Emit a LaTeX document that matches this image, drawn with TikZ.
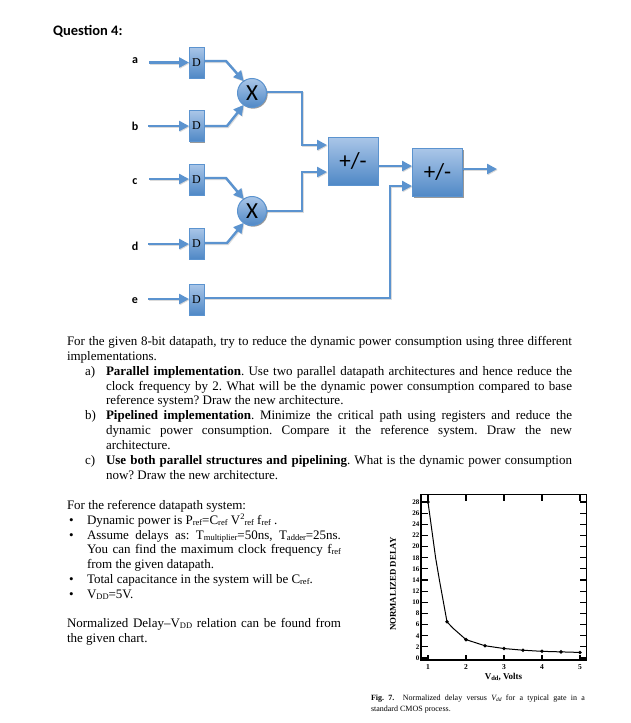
\documentclass[tikz,border=0pt]{standalone}
\usepackage{fontspec}
\setmainfont{Liberation Serif}
\newfontfamily\calib{Carlito}
\usetikzlibrary{arrows.meta,shadows}
\definecolor{wire}{HTML}{5B93CF}
\definecolor{boxtop}{HTML}{AAC6E8}
\definecolor{boxbot}{HTML}{4F88C6}
\newcommand\body{\fontsize{13}{14}\selectfont\frenchspacing}
\newcommand\sbs[1]{\raisebox{-1.5pt}{\fontsize{8.5}{9}\selectfont #1}}
\newcommand\sps[1]{\raisebox{4.5pt}{\fontsize{8.5}{9}\selectfont #1}}
\newcommand\jl[5]{\node[txt] (#1) at (#2,#3) {\hbox to #4pt{#5}};}
\newcommand\nl[4]{\node[txt] (#1) at (#2,#3) {#4};}
\tikzset{
  shade box/.style={top color=boxtop,bottom color=boxbot,draw=wire,line width=1pt,
    drop shadow={shadow xshift=1.2pt,shadow yshift=-1.2pt,opacity=.4,fill=black},inner sep=0pt,outer sep=0pt},
  reg/.style={shade box,rectangle,minimum width=15pt,minimum height=31pt,font=\fontsize{12}{12}\selectfont},
  mult/.style={shade box,circle,minimum size=29pt,font=\calib\fontsize{23}{23}\selectfont},
  adder/.style={shade box,rectangle,minimum width=50pt,minimum height=48pt,font=\calib\fontsize{23}{23}\selectfont},
  conn/.style={draw=wire,line width=2.4pt,-{Triangle[length=10pt,width=10pt]},
    preaction={draw=black,opacity=.14,line width=2.4pt,-{Triangle[length=10pt,width=10pt]},transform canvas={shift={(.9pt,-.9pt)}}}},
  inlabel/.style={font=\calib\bfseries\fontsize{12}{12}\selectfont,inner sep=0pt},
  txt/.style={anchor=base west,inner sep=0pt,outer sep=0pt,font=\body},
  axlab/.style={inner sep=0pt,font=\bfseries\fontsize{7}{7}\selectfont},
  caption/.style={anchor=base west,inner sep=0pt,outer sep=0pt,font=\fontsize{8}{8}\selectfont\frenchspacing},
}
\begin{document}
\begin{tikzpicture}[x=1pt,y=-1pt]
\useasboundingbox[fill=white] (0,0) rectangle (630,723);
\node[font=\calib\bfseries\fontsize{14.5}{15}\selectfont,anchor=west,inner sep=0pt] (title) at (53,31) {Question 4:};
% datapath
\node[inlabel] (la) at (135,61) {a};
\node[inlabel] (lb) at (135,126) {b};
\node[inlabel] (lc) at (135,182) {c};
\node[inlabel] (ld) at (135,246) {d};
\node[inlabel] (le) at (135,301) {e};
\coordinate (ia) at (149,62.5);
\coordinate (ib) at (148,126);
\coordinate (ic) at (149,179);
\coordinate (id) at (148,244);
\coordinate (ie) at (148,299);
\node[reg] (da) at (196.5,62.5) {D};
\node[reg] (db) at (196.5,126) {D};
\node[reg] (dc) at (196.5,179.5) {D};
\node[reg] (dd) at (196.5,243.5) {D};
\node[reg] (de) at (196.5,299.5) {D};
\node[mult] (xa) at (252,93) {X};
\node[mult] (xb) at (252,211) {X};
\node[adder] (ad1) at (353,161) {+/-};
\node[adder] (ad2) at (437.5,172.5) {+/-};
\coordinate (out) at (497,169);
\coordinate (ad1a) at (327,145);
\coordinate (ad1b) at (327,172);
\coordinate (ad2a) at (412,166);
\coordinate (ad2b) at (412,186);
\coordinate (ad1o) at (378,166);
\coordinate (ad2o) at (462,169);
\draw[conn] (ia) -- (da.west |- ia);
\draw[conn] (ib) -- (db.west |- ib);
\draw[conn] (ic) -- (dc.west |- ic);
\draw[conn] (id) -- (dd.west |- id);
\draw[conn] (ie) -- (de.west |- ie);
\coordinate (ba) at (226,61);
\coordinate (bb) at (227,126);
\coordinate (bc) at (226,178);
\coordinate (bd) at (227,243);
\draw[conn] (da.east |- ba) -- (ba) -- (xa.125);
\draw[conn] (db.east |- bb) -- (bb) -- (xa.235);
\draw[conn] (dc.east |- bc) -- (bc) -- (xb.125);
\draw[conn] (dd.east |- bd) -- (bd) -- (xb.235);
\coordinate (bx1) at (302,92);
\coordinate (bx2) at (302,211);
\draw[conn] (xa.east |- bx1) -- (bx1) -- (bx1 |- ad1a) -- (ad1a);
\draw[conn] (xb.east |- bx2) -- (bx2) -- (bx2 |- ad1b) -- (ad1b);
\draw[conn] (ad1o) -- (ad2a);
\draw[conn] (ad2o) -- (out);
\coordinate (be) at (390,298);
\draw[conn] (de.east |- be) -- (be) -- (be |- ad2b) -- (ad2b);
% question text
\jl{t1}{67}{345}{505}{For the given 8-bit datapath, try to reduce the dynamic power consumption using three different}
\nl{t2}{67}{360}{implementations.}
\nl{t3a}{85}{375}{a)}
\jl{t3}{106}{375}{466}{\textbf{Parallel implementation}. Use two parallel datapath architectures and hence reduce the}
\jl{t4}{106}{390}{466}{clock frequency by 2. What will be the dynamic power consumption compared to base}
\nl{t5}{106}{404}{reference system? Draw the new architecture.}
\nl{t6a}{85}{419}{b)}
\jl{t6}{106}{419}{466}{\textbf{Pipelined implementation}. Minimize the critical path using registers and reduce the}
\jl{t7}{106}{434}{466}{dynamic power consumption. Compare it the reference system. Draw the new}
\nl{t8}{106}{449}{architecture.}
\nl{t9a}{85}{464}{c)}
\jl{t9}{106}{464}{466}{\textbf{Use both parallel structures and pipelining}. What is the dynamic power consumption}
\nl{t10}{106}{479}{now? Draw the new architecture.}
% reference system text
\nl{r1}{67}{509}{For the reference datapath system:}
\nl{b1}{69}{524}{•}
\nl{r2}{87}{524}{Dynamic power is P\sbs{ref}=C\sbs{ref} V\sps{2}\sbs{ref} f\sbs{ref} .}
\nl{b2}{69}{539}{•}
\jl{r3}{87}{539}{254}{Assume delays as: T\sbs{multiplier}=50ns, T\sbs{adder}=25ns.}
\jl{r4}{87}{553}{254}{You can find the maximum clock frequency f\sbs{ref}}
\nl{r5}{87}{568}{from the given datapath.}
\nl{b3}{69}{583}{•}
\nl{r6}{87}{583}{Total capacitance in the system will be C\sbs{ref}.}
\nl{b4}{69}{598}{•}
\nl{r7}{87}{598}{V\sbs{DD}=5V.}
\jl{r8}{67}{627}{274}{Normalized Delay–V\sbs{DD} relation can be found from}
\nl{r9}{67}{642}{the given chart.}
% chart
\begin{scope}[shift={(390,658)},x=38pt,y=5.57pt]
  \draw[line width=1.1pt] (0.816,-0.36) rectangle (5.18,29.3);
  \draw[line width=1.6pt] (0.816,-0.36) -- (5.18,-0.36);
  \foreach \v in {0,2,...,28}{
    \draw[line width=1.1pt] (0.816,\v) -- ++(7pt,0);
    \draw[line width=1.1pt] (5.18,\v) -- ++(-7pt,0);
    \node[axlab,anchor=east] at (0.775,\v) {\v};
  }
  \foreach \u in {1,2,3,4,5}{
    \draw[line width=1.1pt] (\u,-0.36) -- ++(0,5pt);
    \draw[line width=1.1pt] (\u,29.3) -- ++(0,-6pt);
    \node[axlab,font=\bfseries\fontsize{7.5}{7.5}\selectfont] at (\u,-1.6) {\u};
  }
  \draw[line width=1pt] (1,28) -- (1.2,18) -- (1.3,14) -- (1.5,6.5) -- (1.65,5.4) -- (2,3.3) -- (2.5,2.2) -- (3,1.7) -- (3.5,1.4) -- (4,1.2) -- (4.5,1.1) -- (5,1);
  \foreach \u/\w in {1/28,1.5/6.5,2/3.3,2.5/2.2,3/1.7,3.5/1.4,4/1.2,4.5/1.1,5/1}{
    \fill (\u,\w) circle (1.9pt);
  }
\end{scope}
\node[rotate=90,inner sep=0pt,font=\bfseries\fontsize{8.8}{9}\selectfont] (yl) at (393,584) {NORMALIZED DELAY};
\node[inner sep=0pt,font=\bfseries\fontsize{9}{9}\selectfont] (xl) at (503.5,677) {V\raisebox{-1pt}{\fontsize{6.5}{6.5}\selectfont dd}, Volts};
\node[caption] (c1) at (371,700.5) {\hbox to 214pt{\textbf{Fig. 7.}\ \ Normalized delay versus \textit{V\raisebox{-1pt}{\fontsize{5.5}{6}\selectfont dd}} for a typical gate in a}};
\node[caption] (c2) at (371,711) {standard CMOS process.};
\end{tikzpicture}
\end{document}
